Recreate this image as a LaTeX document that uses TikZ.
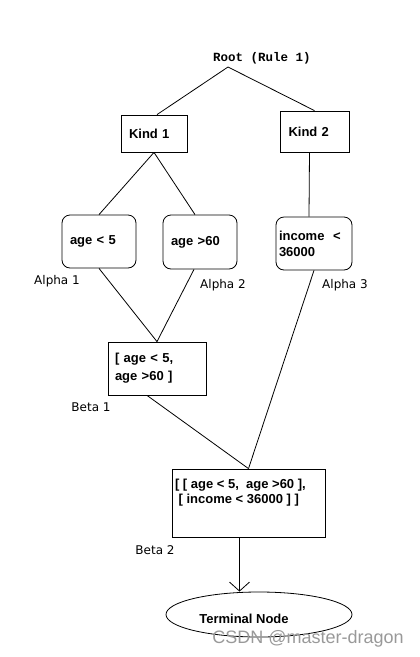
\documentclass[tikz,border=0pt]{standalone}
\usepackage{fontspec}
\setmainfont{Liberation Sans}
\newfontfamily\rootfont{Liberation Mono}
\newfontfamily\tagfont{DejaVu Sans}
\usetikzlibrary{positioning,calc,arrows.meta,shapes.geometric}
\tikzset{>={Straight Barb[length=9pt,width=20pt]}}

\begin{document}
\begin{tikzpicture}[x=1pt,y=-1pt,line width=0.8pt,
  box/.style={draw,rectangle,inner sep=0pt,align=left,
    font=\fontsize{13}{15}\selectfont\bfseries},
  cond/.style={box,rounded corners=8pt},
  txt/.style={inner sep=0pt,align=left,font=\fontsize{13}{15}\selectfont\bfseries},
  tag/.style={inner sep=0pt,font=\tagfont\fontsize{12}{14}\selectfont}]
\useasboundingbox (0,0) rectangle (420,657);

% Root and the two kinds
\node[inner sep=0pt,font=\rootfont\fontsize{12.5}{14}\selectfont\bfseries] (root) at (262,58) {Root (Rule 1)};
\coordinate (rt) at (228,67);
\node[box,minimum width=66,minimum height=37,text width=50] (k1) at (154,133.5) {Kind 1};
\node[box,minimum width=69,minimum height=41,text width=52] (k2) at (314.5,131.5) {Kind 2};

% Alpha memories
\node[cond,minimum width=74,minimum height=53,text width=58] (a5) at (99,241.5) {age < 5};
\node[cond,minimum width=74,minimum height=54,text width=58] (a60) at (200,242) {age >60};
\node[cond,minimum width=76,minimum height=53,text width=70,
  font=\fontsize{13}{16}\selectfont\bfseries] (inc) at (314,243.5) {income \ <\\36000};
\node[tag] (al1) at (57,281) {Alpha 1};
\node[tag] (al2) at (223,285) {Alpha 2};
\node[tag] (al3) at (345,285) {Alpha 3};

% Beta memories
\node[box,minimum width=98,minimum height=53,text width=84,
  font=\fontsize{13}{18}\selectfont\bfseries] (b1) at (157,368.5) {[ age < 5,\\age >60 ]};
\node[tag] (be1) at (91,407) {Beta 1};
\node[box,minimum width=153,minimum height=68] (b2) at (248.5,503) {};
\node[txt,anchor=north west] (b2txt) at ([shift={(3,10)}]b2.north west) {[ [ age < 5, \ age >60 ],\\\ [ income < 36000 ] ]};
\node[tag] (be2) at (155,550) {Beta 2};

% Terminal
\node[draw,ellipse,minimum width=186,minimum height=45,inner sep=0pt] (term) at (259,614.5) {};
\node[txt] (termtxt) at (244,619) {Terminal Node};
\node[inner sep=0pt,text=black!40,font=\fontsize{18}{20}\selectfont] (mark) at (308,639) {CSDN @master-dragon};

% Connectors
\draw (rt) -- ([xshift=3]k1.north);
\draw (rt) -- (k2.north);
\draw (k1.south) -- (a5.north);
\draw (k1.south) -- ([xshift=-5]a60.north);
\draw ([xshift=-5]k2.south) -- ([xshift=-5]inc.north);
\draw (a5.south) -- (b1.north);
\draw ([xshift=-6]a60.south) -- (b1.north);
\draw ([xshift=-10]b1.south) -- (b2.north);
\draw (inc.south) -- (b2.north);
\draw[->] ([xshift=-9]b2.south) -- ([xshift=-9]b2.south |- term.north);

\end{tikzpicture}
\end{document}
